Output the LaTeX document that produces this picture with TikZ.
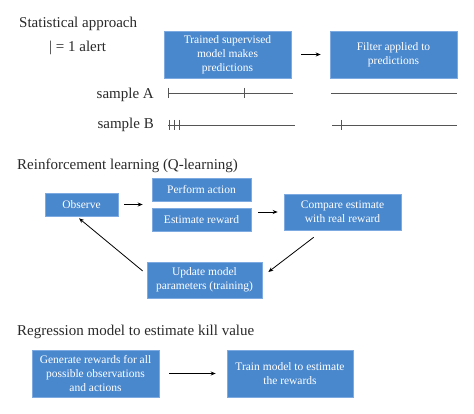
\documentclass[tikz,border=0pt]{standalone}
\usepackage{fontspec}
\setmainfont{Liberation Serif}
\usetikzlibrary{arrows.meta,calc}
\definecolor{boxblue}{HTML}{4A88CE}
\definecolor{boxedge}{HTML}{7DAAE0}
\definecolor{linegray}{HTML}{555555}
\definecolor{txt}{HTML}{2A2A2A}
\tikzset{
  box/.style={rectangle, fill=boxblue, draw=boxedge, line width=0.6pt, text=white,
    align=center, font=\fontsize{11.5}{14}\selectfont, inner sep=0pt},
  ttl/.style={anchor=base west, font=\fontsize{15}{18}\selectfont, text=txt, inner sep=0pt},
  lbl/.style={anchor=base east, font=\fontsize{15}{18}\selectfont, text=txt, inner sep=0pt},
  arr/.style={-{Stealth[length=5pt,width=4pt]}, line width=0.8pt, black},
  track/.style={linegray, line width=0.8pt},
}
\begin{document}
\begin{tikzpicture}[x=1pt,y=-1pt]
\useasboundingbox[fill=white] (0,0) rectangle (474,414);

% ---- Statistical approach
\node[ttl] (t1) at (19,28) {Statistical approach};
\node[ttl] (legend) at (49,52) {| = 1 alert};
\node[box, minimum width=127, minimum height=47] (b1) at (227.5,54.5)
  {Trained supervised\\model makes\\predictions};
\node[box, minimum width=127, minimum height=47] (b2) at (393.5,54.5)
  {Filter applied to\\predictions};
\draw[arr, shorten <=10pt, shorten >=9pt] (b1.east) -- (b2.west);

\node[lbl] (sa) at (154,99) {sample A};
\node[lbl] (sb) at (154,129) {sample B};
% sample A
\draw[track] (168,93) -- (293,93);
\draw[track] (168,88) -- (168,98);
\draw[track] (244,88) -- (244,98);
\draw[track] (331,93) -- (457,93);
% sample B
\draw[track] (168,125) -- (295,125);
\draw[track] (169,120) -- (169,130);
\draw[track] (174.5,120) -- (174.5,130);
\draw[track] (179.5,120) -- (179.5,130);
\draw[track] (332,125) -- (457,125);
\draw[track] (341,120) -- (341,130);

% ---- Reinforcement learning
\node[ttl] (t2) at (17,170) {Reinforcement learning (Q-learning)};
\node[box, minimum width=73, minimum height=23] (obs) at (81.5,204.5) {Observe};
\node[box, minimum width=99, minimum height=23] (pa) at (201.5,189.5) {Perform action};
\node[box, minimum width=99, minimum height=23] (er) at (201.5,219.5) {Estimate reward};
\node[box, minimum width=117, minimum height=36] (cmp) at (342.5,212) {Compare estimate\\with real reward};
\node[box, minimum width=115, minimum height=36] (upd) at (204.5,280) {Update model\\parameters (training)};
\draw[arr, shorten <=6pt, shorten >=9pt] (obs.east) -- (obs.east -| pa.west);
\draw[arr, shorten <=7pt, shorten >=6pt] (cmp.west -| er.east) -- (cmp.west);
\draw[arr] ($(cmp.south west)+(30,7)$) -- ($(upd.east)+(6,-8)$);
\draw[arr] ($(upd.west)+(-4,-9)$) -- ($(obs.south)+(-2.5,2)$);

% ---- Regression model
\node[ttl] (t3) at (17,335) {Regression model to estimate kill value};
\node[box, minimum width=127, minimum height=47] (gen) at (95.5,373.5)
  {Generate rewards for all\\possible observations\\and actions};
\node[box, minimum width=126, minimum height=47] (trn) at (290,373.5)
  {Train model to estimate\\the rewards};
\draw[arr, shorten <=10pt, shorten >=11pt] (gen.east) -- (trn.west);
\end{tikzpicture}
\end{document}
